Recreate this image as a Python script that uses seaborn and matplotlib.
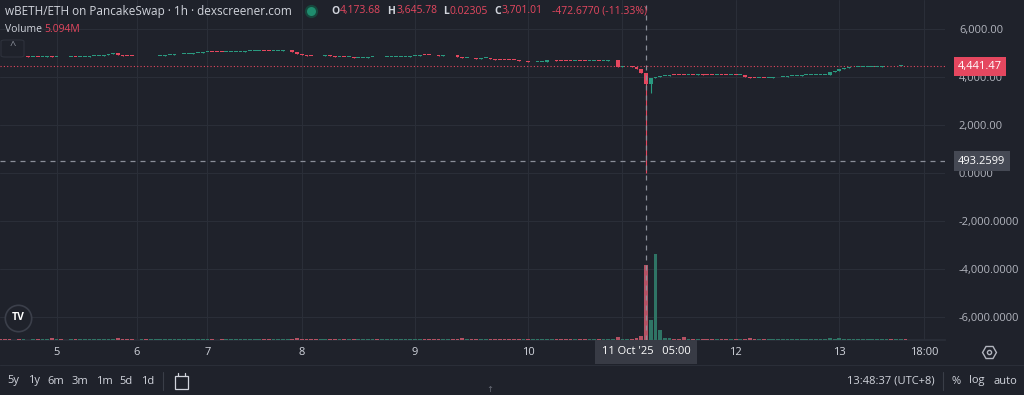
import numpy as np
import pandas as pd
import matplotlib
matplotlib.use("Agg")
import matplotlib.pyplot as plt
import matplotlib.transforms as mtransforms
from matplotlib.lines import Line2D
from matplotlib.patches import FancyBboxPatch, Rectangle
import seaborn as sns

# ---------------- data ----------------
first_open = 4917.0
closes = [
    4900, 4890, 4880, 4870, 4860, 4860, 4850, 4850, 4845, 4850,
    4870, 4820, 4820, 4815, 4820, 4825, 4820, 4830, 4835, 4880,
    4880, 4890, 4900, 4945, 4985, 4900, 4890, 4880, 4870, 4860,
    4860, 4855, 4860, 4870, 4880, 4925, 4930, 4940, 4950, 4960,
    4965, 5000, 5010, 5040, 5055, 5050, 5045, 5040, 5040, 5045,
    5050, 5060, 5070, 5080, 5090, 5100, 5090, 5080, 5090, 5100,
    5110, 5125, 5060, 4960, 4920, 4880, 4870, 4860, 4860, 4900,
    4890, 4840, 4840, 4830, 4830, 4790, 4800, 4810, 4820, 4820,
    4815, 4820, 4825, 4830, 4830, 4835, 4840, 4870, 4870, 4920,
    4910, 4905, 4900, 4895, 4900, 4905, 4900, 4850, 4780, 4780,
    4775, 4770, 4780, 4780, 4770, 4720, 4715, 4710, 4705, 4700,
    4650, 4650, 4610, 4640, 4640, 4645, 4690, 4690, 4685, 4680,
    4675, 4670, 4670, 4665, 4660, 4660, 4665, 4660, 4660, 4690,
    4690, 4430, 4440, 4450, 4430, 4330, 4173.68, 3701.01, 3960, 4010,
    4030, 4050, 4090, 4080, 4075, 4070, 4075, 4070, 4110, 4100,
    4095, 4090, 4090, 4085, 4080, 4080, 4075, 4080, 4010, 3960,
    3950, 3975, 3970, 3975, 3980, 3990, 4000, 4040, 4050, 4060,
    4070, 4070, 4075, 4080, 4090, 4100, 4200, 4260, 4330, 4380,
    4400, 4410, 4420, 4420, 4425, 4430, 4430, 4440, 4445, 4440,
    4445, 4450, 4441.47,
]
wick_lows = {137: 0.02305, 138: 3330.0}
volumes_m = [
    0.06, 0.04, 0.05, 0.03, 0.04, 0.05, 0.03, 0.04, 0.05, 0.04,
    0.08, 0.12, 0.05, 0.04, 0.03, 0.05, 0.04, 0.06, 0.05, 0.09,
    0.04, 0.05, 0.06, 0.10, 0.07, 0.11, 0.05, 0.04, 0.05, 0.03,
    0.04, 0.05, 0.04, 0.06, 0.05, 0.09, 0.05, 0.04, 0.06, 0.05,
    0.04, 0.08, 0.06, 0.07, 0.05, 0.04, 0.03, 0.05, 0.04, 0.05,
    0.06, 0.05, 0.04, 0.05, 0.06, 0.05, 0.04, 0.05, 0.06, 0.05,
    0.07, 0.06, 0.10, 0.14, 0.08, 0.06, 0.05, 0.04, 0.05, 0.08,
    0.05, 0.09, 0.05, 0.04, 0.05, 0.08, 0.05, 0.04, 0.05, 0.04,
    0.05, 0.04, 0.05, 0.06, 0.05, 0.04, 0.05, 0.07, 0.05, 0.09,
    0.05, 0.04, 0.05, 0.04, 0.05, 0.06, 0.05, 0.09, 0.12, 0.05,
    0.04, 0.05, 0.06, 0.05, 0.04, 0.09, 0.05, 0.04, 0.05, 0.04,
    0.09, 0.05, 0.08, 0.07, 0.05, 0.04, 0.08, 0.05, 0.04, 0.05,
    0.04, 0.05, 0.04, 0.05, 0.04, 0.05, 0.04, 0.05, 0.06, 0.07,
    0.05, 0.20, 0.08, 0.07, 0.09, 0.12, 0.25, 5.094, 1.36, 5.84,
    0.68, 0.15, 0.12, 0.10, 0.08, 0.22, 0.09, 0.07, 0.10, 0.06,
    0.05, 0.06, 0.05, 0.04, 0.05, 0.04, 0.05, 0.06, 0.10, 0.12,
    0.07, 0.06, 0.05, 0.04, 0.05, 0.04, 0.05, 0.08, 0.05, 0.04,
    0.05, 0.04, 0.05, 0.04, 0.05, 0.06, 0.12, 0.10, 0.11, 0.08,
    0.06, 0.05, 0.04, 0.05, 0.04, 0.05, 0.04, 0.05, 0.04, 0.05,
    0.04, 0.05, 0.04,
]
day_labels = ['5', '6', '7', '8', '9', '10', '12', '13', '18:00']
day_label_bars = [12, 29, 44, 64, 88, 112, 156, 178, 196]
hidden_day_bars = [132]  # "11" gridline, its label is covered by the crosshair label
price_ticks = [6000, 4000, 2000, 0, -2000, -4000, -6000]
price_tick_labels = ['6,000.00', '4,000.00', '2,000.00', '0.0000',
                     '-2,000.0000', '-4,000.0000', '-6,000.0000']
last_price = 4441.47
cross_bar = 137
cross_price = 493.2599
cross_time_label = "11 Oct '25   05:00"
title_text = "wBETH/ETH on PancakeSwap · 1h · dexscreener.com"
hover_ohlc = [('O', '4,173.68'), ('H', '3,645.78'), ('L', '0.02305'), ('C', '3,701.01')]
hover_change = "-472.6770 (-11.33%)"
hover_volume = "5.094M"
range_buttons = ['5y', '1y', '6m', '3m', '1m', '5d', '1d']
clock_text = "13:48:37 (UTC+8)"

# ---------------- style ----------------
BG = '#1f222b'
GRID = '#2a2e38'
TXT = '#d1d4dc'
AXT = '#b2b5be'
GREEN = '#2a9a80'
RED = '#e5475f'
CROSS = '#8a8e99'

sns.set_theme(style='dark', rc={'axes.facecolor': BG, 'figure.facecolor': BG})
plt.rcParams['font.family'] = ['Open Sans', 'DejaVu Sans']

W, H = 1024, 395
fig = plt.figure(figsize=(W / 100, H / 100), dpi=100)
fig.patch.set_facecolor(BG)


def fx(px):
    return px / W


def fy(py):
    return 1 - py / H


ax = fig.add_axes([0, fy(340), fx(945), 340 / H])
ax.set_facecolor(BG)

n = len(closes)
idx = np.arange(n)
c = np.array(closes, dtype=float)
o = np.r_[first_open, c[:-1]]
up = c >= o
lo = np.minimum(o, c)
hi = np.maximum(o, c)
for k, v in wick_lows.items():
    lo[k] = v
colors = np.where(up, GREEN, RED)

# volume (seaborn) on an overlay axes sharing x
df = pd.DataFrame({'bar': idx, 'vol': volumes_m, 'dir': np.where(up, 'up', 'down')})
ax_v = fig.add_axes(ax.get_position(), sharex=ax)
ax_v.patch.set_visible(False)
sns.barplot(data=df, x='bar', y='vol', hue='dir',
            palette={'up': '#23806c', 'down': '#c54058'},
            native_scale=True, dodge=False, width=0.8, errorbar=None,
            legend=False, linewidth=0, ax=ax_v)
ax_v.set_ylim(0, 23.1)
ax_v.axis('off')

# candles
body_bottom = np.minimum(o, c)
body_h = np.maximum(np.abs(c - o), 35)
ax.vlines(idx, np.minimum(lo, body_bottom), hi, colors=colors, lw=0.8, zorder=3)
ax.bar(idx, body_h, bottom=body_bottom, width=0.8, color=colors, linewidth=0, zorder=4)

ax.set_xlim(0, 200.4)
ax.set_ylim(-6958, 7208)

for s in ['top', 'left', 'right']:
    ax.spines[s].set_visible(False)
ax.spines['bottom'].set_color(GRID)
ax.yaxis.tick_right()
ax.set_yticks(price_ticks, price_tick_labels)
ax.set_xticks(day_label_bars, day_labels)
ax.set_xticks(hidden_day_bars, minor=True)
ax.grid(True, which='both', color=GRID, lw=0.8)
ax.tick_params(axis='y', length=0, pad=10, labelcolor=AXT, labelsize=8)
ax.tick_params(axis='x', which='both', length=0, pad=5, labelcolor=TXT, labelsize=8)
ax.set_xlabel('')
ax.set_ylabel('')

# current price dotted line + crosshair
ax.axhline(last_price, color=RED, lw=0.8, ls=(0, (1, 2)), zorder=2)
ax.axhline(cross_price, color=CROSS, lw=0.9, ls=(0, (4, 4)), zorder=6)
ax_v.axvline(cross_bar, color=CROSS, lw=0.9, ls=(0, (4, 4)), zorder=6)

ytrans = mtransforms.blended_transform_factory(ax.transAxes, ax.transData)
ax.text(1 + 13 / 945, last_price, f"{last_price:,.2f}", transform=ytrans,
        ha='left', va='center', color='white', fontsize=8, zorder=20, clip_on=False,
        bbox=dict(boxstyle='square,pad=0.35', fc=RED, ec='none'))
ax.text(1 + 13 / 945, cross_price, f"{cross_price:.4f}", transform=ytrans,
        ha='left', va='center', color='white', fontsize=8, zorder=20, clip_on=False,
        bbox=dict(boxstyle='square,pad=0.4', fc='#454954', ec='none'))
xtrans = mtransforms.blended_transform_factory(ax.transData, ax.transAxes)
ax.text(cross_bar, -12 / 340, cross_time_label, transform=xtrans,
        ha='center', va='center', color='white', fontsize=8, zorder=20, clip_on=False,
        bbox=dict(boxstyle='square,pad=0.6', fc='#383b45', ec='none'))

# header
renderer = fig.canvas.get_renderer()
fig.text(fx(5), fy(11), title_text, color=TXT, fontsize=8.5, va='center', ha='left')
fig.add_artist(Line2D([fx(311)], [fy(11)], marker='o', ms=8, mfc='#1f8c6e',
                      mec='#16463c', mew=1.5, transform=fig.transFigure))


def put(xpx, text, color, size, weight='normal'):
    t = fig.text(fx(xpx), fy(11), text, color=color, fontsize=size, va='center',
                 ha='left', fontweight=weight)
    return xpx + t.get_window_extent(renderer).width


x = 331
for lab, val in hover_ohlc:
    x = put(x, lab, TXT, 7.5, 'bold') + 1
    x = put(x, val, RED, 7.5) + 6
put(x + 3, hover_change, RED, 7.5)
fig.text(fx(5), fy(29), 'Volume', color=TXT, fontsize=7.5, va='center', ha='left')
fig.text(fx(44), fy(29), hover_volume, color=RED, fontsize=7.5, va='center', ha='left')

# collapse button + TV logo
fig.add_artist(FancyBboxPatch((fx(1), fy(57)), fx(23), 17 / H,
                              boxstyle='round,pad=0,rounding_size=0.004',
                              fc=BG, ec='#2e323c', lw=0.8, transform=fig.transFigure))
fig.text(fx(13), fy(47), '^', color='#8a8e99', fontsize=8, ha='center', va='center')
fig.add_artist(Line2D([fx(18)], [fy(318)], marker='o', ms=19, mfc=BG,
                      mec='#3b3f4a', mew=1.2, transform=fig.transFigure))
fig.text(fx(18), fy(318), 'TV', color='white', fontsize=7.5, fontweight='bold',
         ha='center', va='center')

# settings icon
fig.add_artist(Line2D([fx(989)], [fy(352)], marker='H', ms=10, mfc='none',
                      mec='#b2b5be', mew=1.0, transform=fig.transFigure))
fig.add_artist(Line2D([fx(989)], [fy(352)], marker='o', ms=3, mfc='none',
                      mec='#b2b5be', mew=1.0, transform=fig.transFigure))

# bottom toolbar
fig.add_artist(Line2D([0, 1], [fy(365), fy(365)], color='#2a2e38', lw=0.8,
                      transform=fig.transFigure))
btn_x = [13, 34, 56, 80, 104, 126, 148]
for t, bx in zip(range_buttons, btn_x):
    fig.text(fx(bx), fy(381), t, color=TXT, fontsize=8, ha='center', va='center')
fig.add_artist(Line2D([fx(163), fx(163)], [fy(372), fy(390)], color='#3a3e48', lw=0.8,
                      transform=fig.transFigure))
fig.add_artist(Rectangle((fx(175), fy(389)), fx(13), 13 / H, fc='none', ec=TXT, lw=0.9,
                         transform=fig.transFigure))
fig.add_artist(Line2D([fx(178), fx(178)], [fy(376), fy(373)], color=TXT, lw=0.9,
                      transform=fig.transFigure))
fig.add_artist(Line2D([fx(185), fx(185)], [fy(376), fy(373)], color=TXT, lw=0.9,
                      transform=fig.transFigure))
fig.text(fx(490), fy(390), '↑', color='#6a6e79', fontsize=6, ha='center', va='center')
fig.text(fx(935), fy(381), clock_text, color=TXT, fontsize=8, ha='right', va='center')
fig.add_artist(Line2D([fx(943), fx(943)], [fy(372), fy(390)], color='#3a3e48', lw=0.8,
                      transform=fig.transFigure))
fig.text(fx(956), fy(381), '%', color=TXT, fontsize=8, ha='center', va='center')
fig.text(fx(977), fy(381), 'log', color=TXT, fontsize=8, ha='center', va='center')
fig.text(fx(1005), fy(381), 'auto', color=TXT, fontsize=8, ha='center', va='center')

fig.savefig('out.png', dpi=100, facecolor=BG)
